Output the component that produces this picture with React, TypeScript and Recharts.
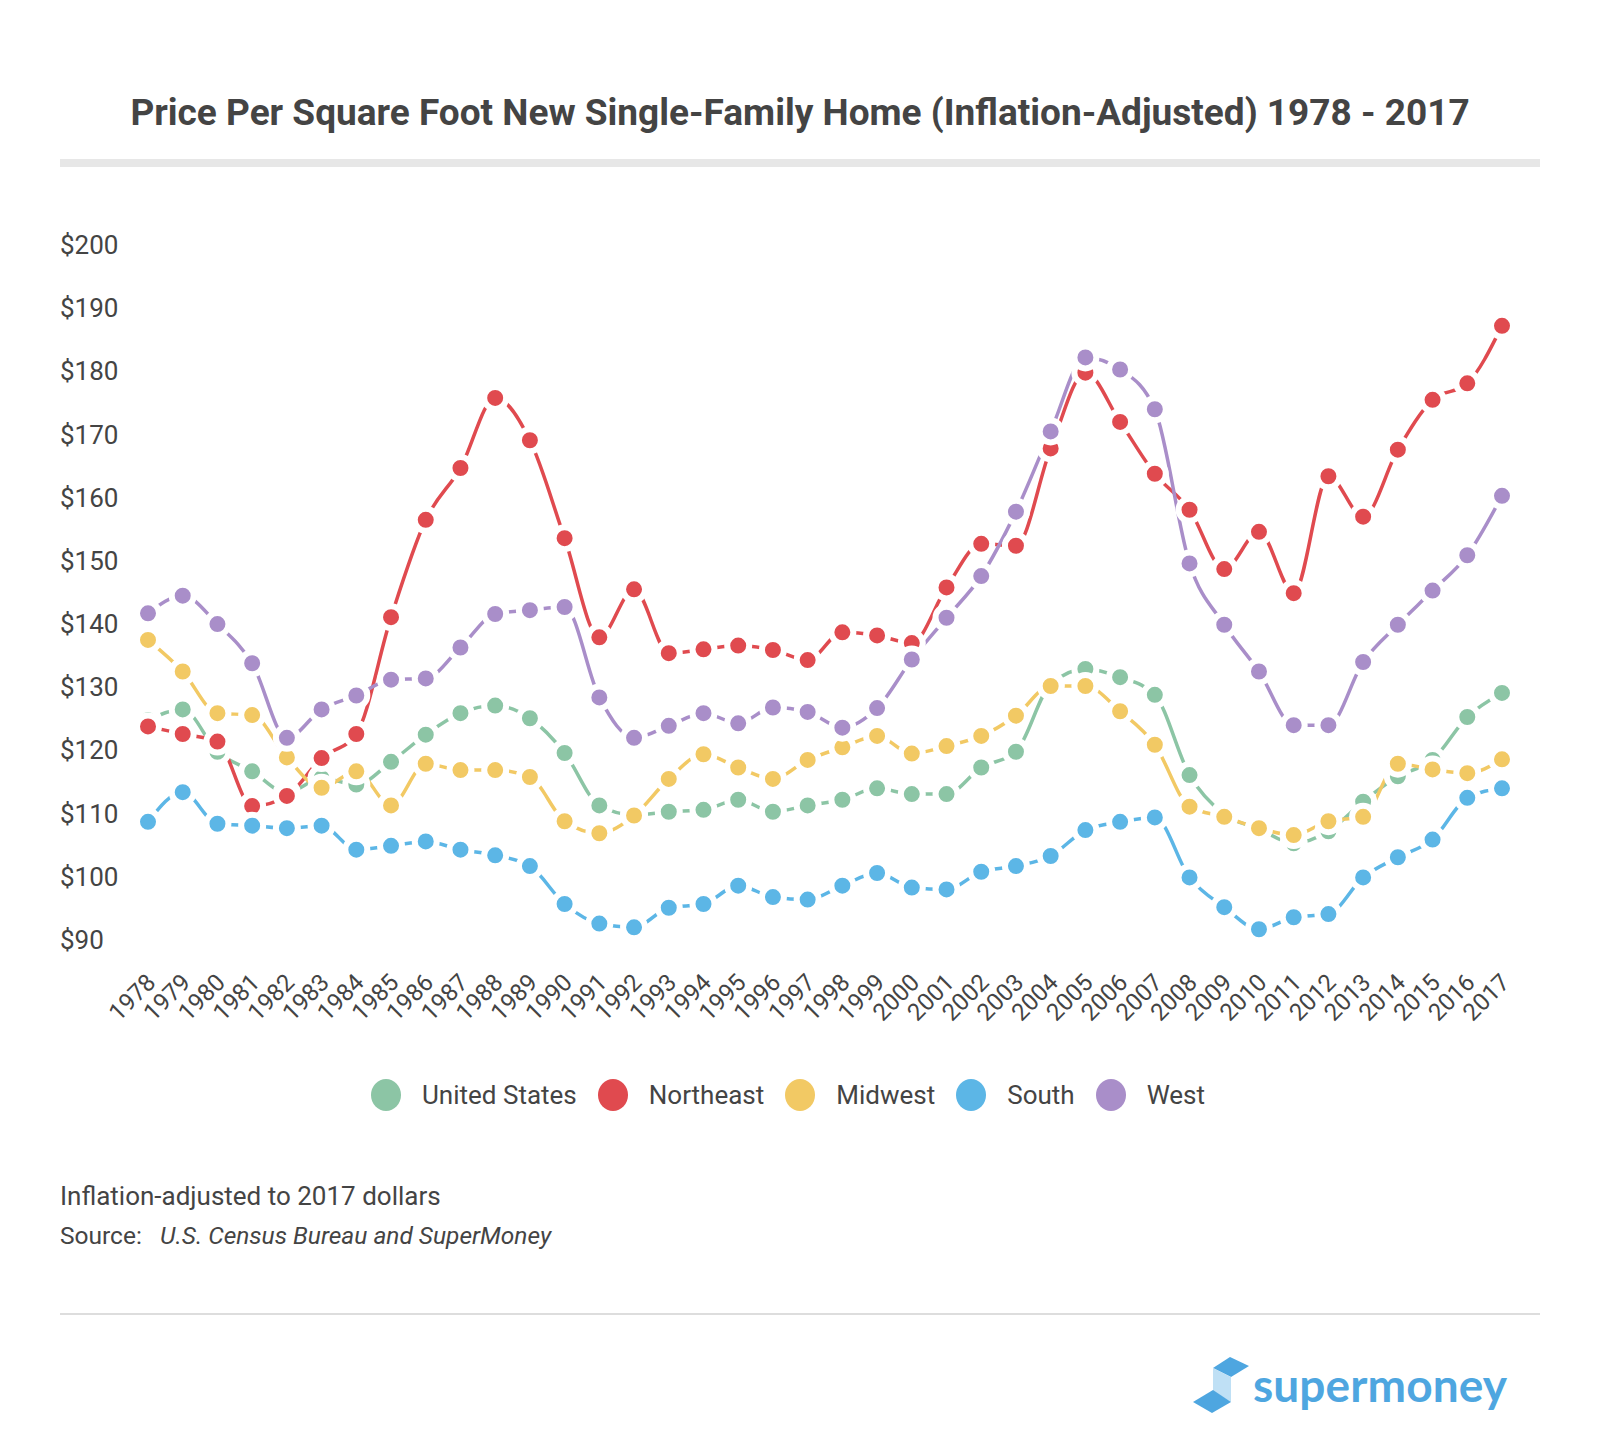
import { LineChart, Line, XAxis, YAxis } from 'recharts';

const years = [
  1978, 1979, 1980, 1981, 1982, 1983, 1984, 1985, 1986, 1987,
  1988, 1989, 1990, 1991, 1992, 1993, 1994, 1995, 1996, 1997,
  1998, 1999, 2000, 2001, 2002, 2003, 2004, 2005, 2006, 2007,
  2008, 2009, 2010, 2011, 2012, 2013, 2014, 2015, 2016, 2017,
];

const unitedStates = [
  124.8, 126.5, 119.8, 116.7, 113.3, 115.6, 114.6, 118.2, 122.5, 125.9,
  127.1, 125.1, 119.6, 111.3, 109.8, 110.3, 110.6, 112.2, 110.3, 111.3,
  112.2, 114.0, 113.1, 113.1, 117.3, 119.8, 130.5, 132.9, 131.6, 128.8,
  116.1, 109.9, 107.6, 105.3, 107.2, 111.9, 115.9, 118.5, 125.3, 129.1,
];

const northeast = [
  123.8, 122.6, 121.4, 111.2, 112.8, 118.8, 122.6, 141.1, 156.5, 164.7,
  175.8, 169.1, 153.6, 137.9, 145.5, 135.4, 136.0, 136.6, 135.9, 134.3,
  138.7, 138.2, 137.0, 145.8, 152.7, 152.4, 167.8, 179.8, 172.0, 163.8,
  158.1, 148.7, 154.6, 144.9, 163.4, 157.0, 167.6, 175.5, 178.1, 187.2,
];

const midwest = [
  137.5, 132.5, 125.9, 125.6, 118.9, 114.1, 116.7, 111.3, 117.9, 116.9,
  116.9, 115.8, 108.8, 106.9, 109.7, 115.5, 119.4, 117.3, 115.5, 118.5,
  120.5, 122.3, 119.5, 120.7, 122.3, 125.5, 130.2, 130.2, 126.2, 120.9,
  111.1, 109.5, 107.7, 106.6, 108.8, 109.5, 117.9, 117.0, 116.4, 118.6,
];

const south = [
  108.7, 113.4, 108.4, 108.1, 107.7, 108.1, 104.3, 104.9, 105.6, 104.3,
  103.4, 101.7, 95.7, 92.6, 92.0, 95.1, 95.7, 98.6, 96.8, 96.4,
  98.6, 100.6, 98.3, 98.0, 100.8, 101.7, 103.3, 107.4, 108.7, 109.4,
  99.9, 95.2, 91.7, 93.6, 94.1, 99.9, 103.1, 105.9, 112.5, 114.0,
];

const west = [
  141.7, 144.5, 140.0, 133.8, 122.0, 126.5, 128.7, 131.2, 131.4, 136.3,
  141.6, 142.2, 142.7, 128.4, 122.0, 123.9, 125.9, 124.3, 126.8, 126.1,
  123.6, 126.7, 134.4, 141.0, 147.6, 157.8, 170.5, 182.2, 180.3, 174.0,
  149.6, 139.9, 132.5, 124.0, 124.0, 134.0, 139.9, 145.3, 150.9, 160.3,
];

const yTicks = [90, 100, 110, 120, 130, 140, 150, 160, 170, 180, 190, 200];

const series = [
  { key: 'us', name: 'United States', color: '#8cc5a5' },
  { key: 'ne', name: 'Northeast', color: '#e04a4f' },
  { key: 'mw', name: 'Midwest', color: '#f2c964' },
  { key: 's', name: 'South', color: '#5cb6e6' },
  { key: 'w', name: 'West', color: '#a98ec9' },
];

const data = years.map((year, i) => ({
  year: String(year),
  us: unitedStates[i],
  ne: northeast[i],
  mw: midwest[i],
  s: south[i],
  w: west[i],
}));

const textColor = '#444444';

function YTick({ y, payload }: any) {
  return (
    <text x={60} y={y} dy={9} textAnchor="start" fontSize={26} fill={textColor} fontFamily="Roboto">
      {`$${payload.value}`}
    </text>
  );
}

function XTick({ x, payload }: any) {
  const tx = x + 9;
  const ty = 984;
  return (
    <text
      x={tx}
      y={ty}
      textAnchor="end"
      fontSize={24}
      fill={textColor}
      fontFamily="Roboto"
      transform={`rotate(-45, ${tx}, ${ty})`}
    >
      {payload.value}
    </text>
  );
}

export default function App() {
  return (
    <div
      style={{
        position: 'absolute',
        left: 0,
        top: 0,
        width: 1600,
        height: 1456,
        background: '#fff',
        fontFamily: 'Roboto, sans-serif',
        color: textColor,
      }}
    >
      <div
        style={{
          position: 'absolute',
          top: 89,
          left: 0,
          width: 1600,
          textAlign: 'center',
          fontSize: 37,
          fontWeight: 700,
          lineHeight: '48px',
        }}
      >
        Price Per Square Foot New Single-Family Home (Inflation-Adjusted) 1978 - 2017
      </div>
      <div style={{ position: 'absolute', top: 159, left: 60, width: 1480, height: 8, background: '#e7e7e7' }} />

      <div style={{ position: 'absolute', top: 0, left: 0 }}>
        <LineChart width={1600} height={1060} data={data} margin={{ top: 245, right: 98, bottom: 60, left: 60 }}>
          <XAxis dataKey="year" interval={0} axisLine={false} tickLine={false} height={60} tick={<XTick />} />
          <YAxis
            domain={[90, 200]}
            ticks={yTicks}
            axisLine={false}
            tickLine={false}
            width={88}
            tick={<YTick />}
          />
          {series.map((s) => (
            <Line
              key={s.key}
              type="monotone"
              dataKey={s.key}
              name={s.name}
              stroke={s.color}
              strokeWidth={3.5}
              dot={{ r: 11, fill: s.color, stroke: '#ffffff', strokeWidth: 6 }}
              activeDot={false}
              isAnimationActive={false}
            />
          ))}
        </LineChart>
      </div>

      <div
        style={{
          position: 'absolute',
          top: 1078,
          left: 371,
          display: 'flex',
          alignItems: 'center',
          fontSize: 26,
          height: 34,
        }}
      >
        {series.map((s) => (
          <div key={s.key} style={{ display: 'flex', alignItems: 'center', marginRight: 21 }}>
            <span
              style={{
                display: 'inline-block',
                width: 30,
                height: 32,
                borderRadius: '50%',
                background: s.color,
                marginRight: 21,
              }}
            />
            <span>{s.name}</span>
          </div>
        ))}
      </div>

      <div style={{ position: 'absolute', top: 1181, left: 60, fontSize: 26, lineHeight: '30px' }}>
        Inflation-adjusted to 2017 dollars
      </div>
      <div style={{ position: 'absolute', top: 1221, left: 60, fontSize: 24.5, lineHeight: '30px' }}>
        Source:&nbsp;&nbsp;&nbsp;<i>U.S. Census Bureau and SuperMoney</i>
      </div>

      <div style={{ position: 'absolute', top: 1313, left: 60, width: 1480, height: 2, background: '#dddddd' }} />

      <svg style={{ position: 'absolute', left: 0, top: 0 }} width={1600} height={1456}>
        <polygon points="1213,1368 1230,1357 1249,1366 1231,1377" fill="#4ea6e0" />
        <polygon points="1213,1368 1231,1377 1231,1402 1213,1391" fill="#bfe0f5" />
        <polygon points="1193,1402 1213,1390 1231,1402 1212,1413" fill="#4ea6e0" />
        <text x={1253} y={1402} fontSize={46} fontWeight={700} fill="#4ea6e0" fontFamily="Lato" textLength={254}>
          supermoney
        </text>
      </svg>
    </div>
  );
}
